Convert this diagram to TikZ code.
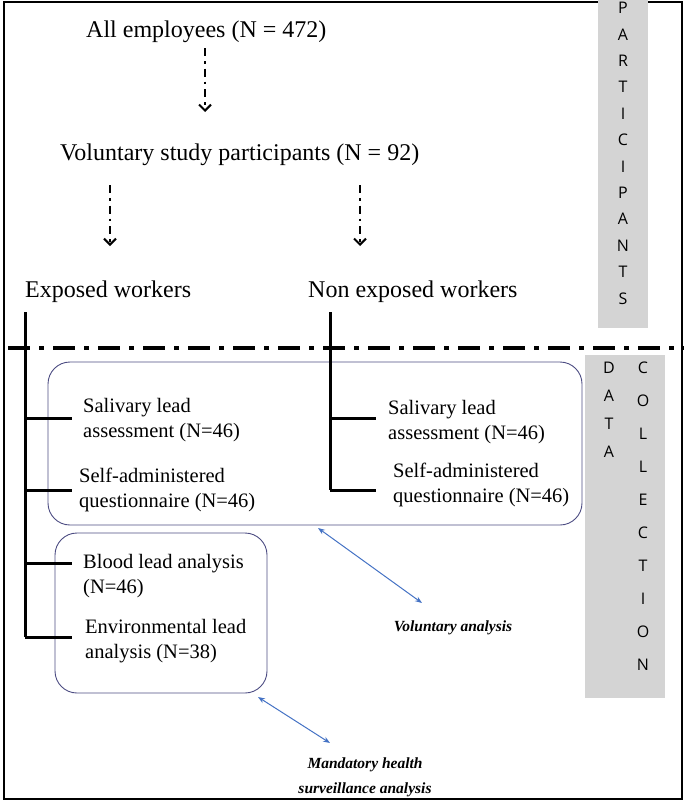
\documentclass[tikz,border=0pt]{standalone}
\usepackage{fontspec}
\setmainfont{Liberation Serif}
\setsansfont{Open Sans}
\usetikzlibrary{arrows.meta}
\begin{document}
\begin{tikzpicture}[x=1pt,y=-1pt,
  big/.style={font=\fontsize{24}{28}\selectfont,inner sep=0,anchor=west},
  mid/.style={font=\fontsize{20.5}{25}\selectfont,align=left,anchor=west,inner sep=0},
  note/.style={font=\fontsize{15.5}{25}\selectfont\bfseries\itshape,align=center,inner sep=0},
  dd/.style={line width=2pt,dash pattern=on 8pt off 5pt on 2.5pt off 5pt,-{Straight Barb[length=6pt,width=12pt,line width=2pt]}},
  tree/.style={line width=3pt},
  rbox/.style={draw=blue!30!black!70,line width=0.9pt,rounded corners=22pt},
  gbox/.style={fill=black!17},
  lett/.style={font=\sffamily\fontsize{16}{18}\selectfont,inner sep=0},
  blue arr/.style={draw={rgb,255:red,68;green,114;blue,196},line width=1pt,{Stealth[length=7pt]}-{Stealth[length=7pt]}}]
\useasboundingbox (0,0) rectangle (685,803);
\draw[line width=2pt] (4,2) rectangle (682,799);
% gray boxes
\fill[gbox] (598,0) rectangle (648,328);
\foreach \l [count=\i] in {P,A,R,T,I,C,I,P,A,N,T,S}
  \node[lett] (p\i) at (623,{8+26.4*(\i-1)}) {\l};
\fill[gbox] (585,355) rectangle (665,698);
\foreach \l [count=\i] in {D,A,T,A}
  \node[lett] (d\i) at (609,{368+28*(\i-1)}) {\l};
\foreach \l [count=\i] in {C,O,L,L,E,C,T,I,O,N}
  \node[lett] (c\i) at (643,{368+33*(\i-1)}) {\l};
% top
\node[big] (all) at (86,32) {All employees (N = 472)};
\node[big] (vol) at (60,155) {Voluntary study participants (N = 92)};
\node[big] (exp) at (25,292) {Exposed workers};
\node[big] (nexp) at (308,292) {Non exposed workers};
\coordinate (a1) at (205,48); \coordinate (a2) at (205,112);
\coordinate (b1) at (110,185); \coordinate (b2) at (110,246);
\coordinate (c1) at (360,185); \coordinate (c2) at (360,246);
\draw[dd] (a1) -- (a2);
\draw[dd] (b1) -- (b2);
\draw[dd] (c1) -- (c2);
% separator
\coordinate (s1) at (8,348); \coordinate (s2) at (684,348);
\draw[line width=3.5pt,dash pattern=on 22pt off 9pt on 5pt off 9pt] (s1) -- (s2);
% boxes
\draw[rbox] (48,362) rectangle (582,525);
\draw[rbox] (55,533) rectangle (267,693);
% tree
\coordinate (L0) at (25,312); \coordinate (L4) at (25,637);
\draw[tree] (L0) -- (L4);
\foreach \y in {418,490,563,637} \draw[tree] (25,\y) -- (72,\y);
\coordinate (R0) at (330,312); \coordinate (R2) at (330,490);
\draw[tree] (R0) -- (R2);
\foreach \y in {418,490} \draw[tree] (330,\y) -- (376,\y);
% texts
\node[mid] (t1) at (83,420) {Salivary lead\\assessment (N=46)};
\node[mid] (t2) at (79,490) {Self-administered\\questionnaire (N=46)};
\node[mid] (t3) at (388,422) {Salivary lead\\assessment (N=46)};
\node[mid] (t4) at (393,485) {Self-administered\\questionnaire (N=46)};
\node[mid] (t5) at (83,576) {Blood lead analysis\\(N=46)};
\node[mid] (t6) at (85,641) {Environmental lead\\analysis (N=38)};
% notes
\node[note] (v) at (453,628) {Voluntary analysis};
\node[note] (m) at (365,777) {Mandatory health\\surveillance analysis};
\coordinate (e1) at (318,528); \coordinate (e2) at (422,603);
\coordinate (f1) at (258,697); \coordinate (f2) at (330,743);
\draw[blue arr] (e1) -- (e2);
\draw[blue arr] (f1) -- (f2);
\end{tikzpicture}
\end{document}
